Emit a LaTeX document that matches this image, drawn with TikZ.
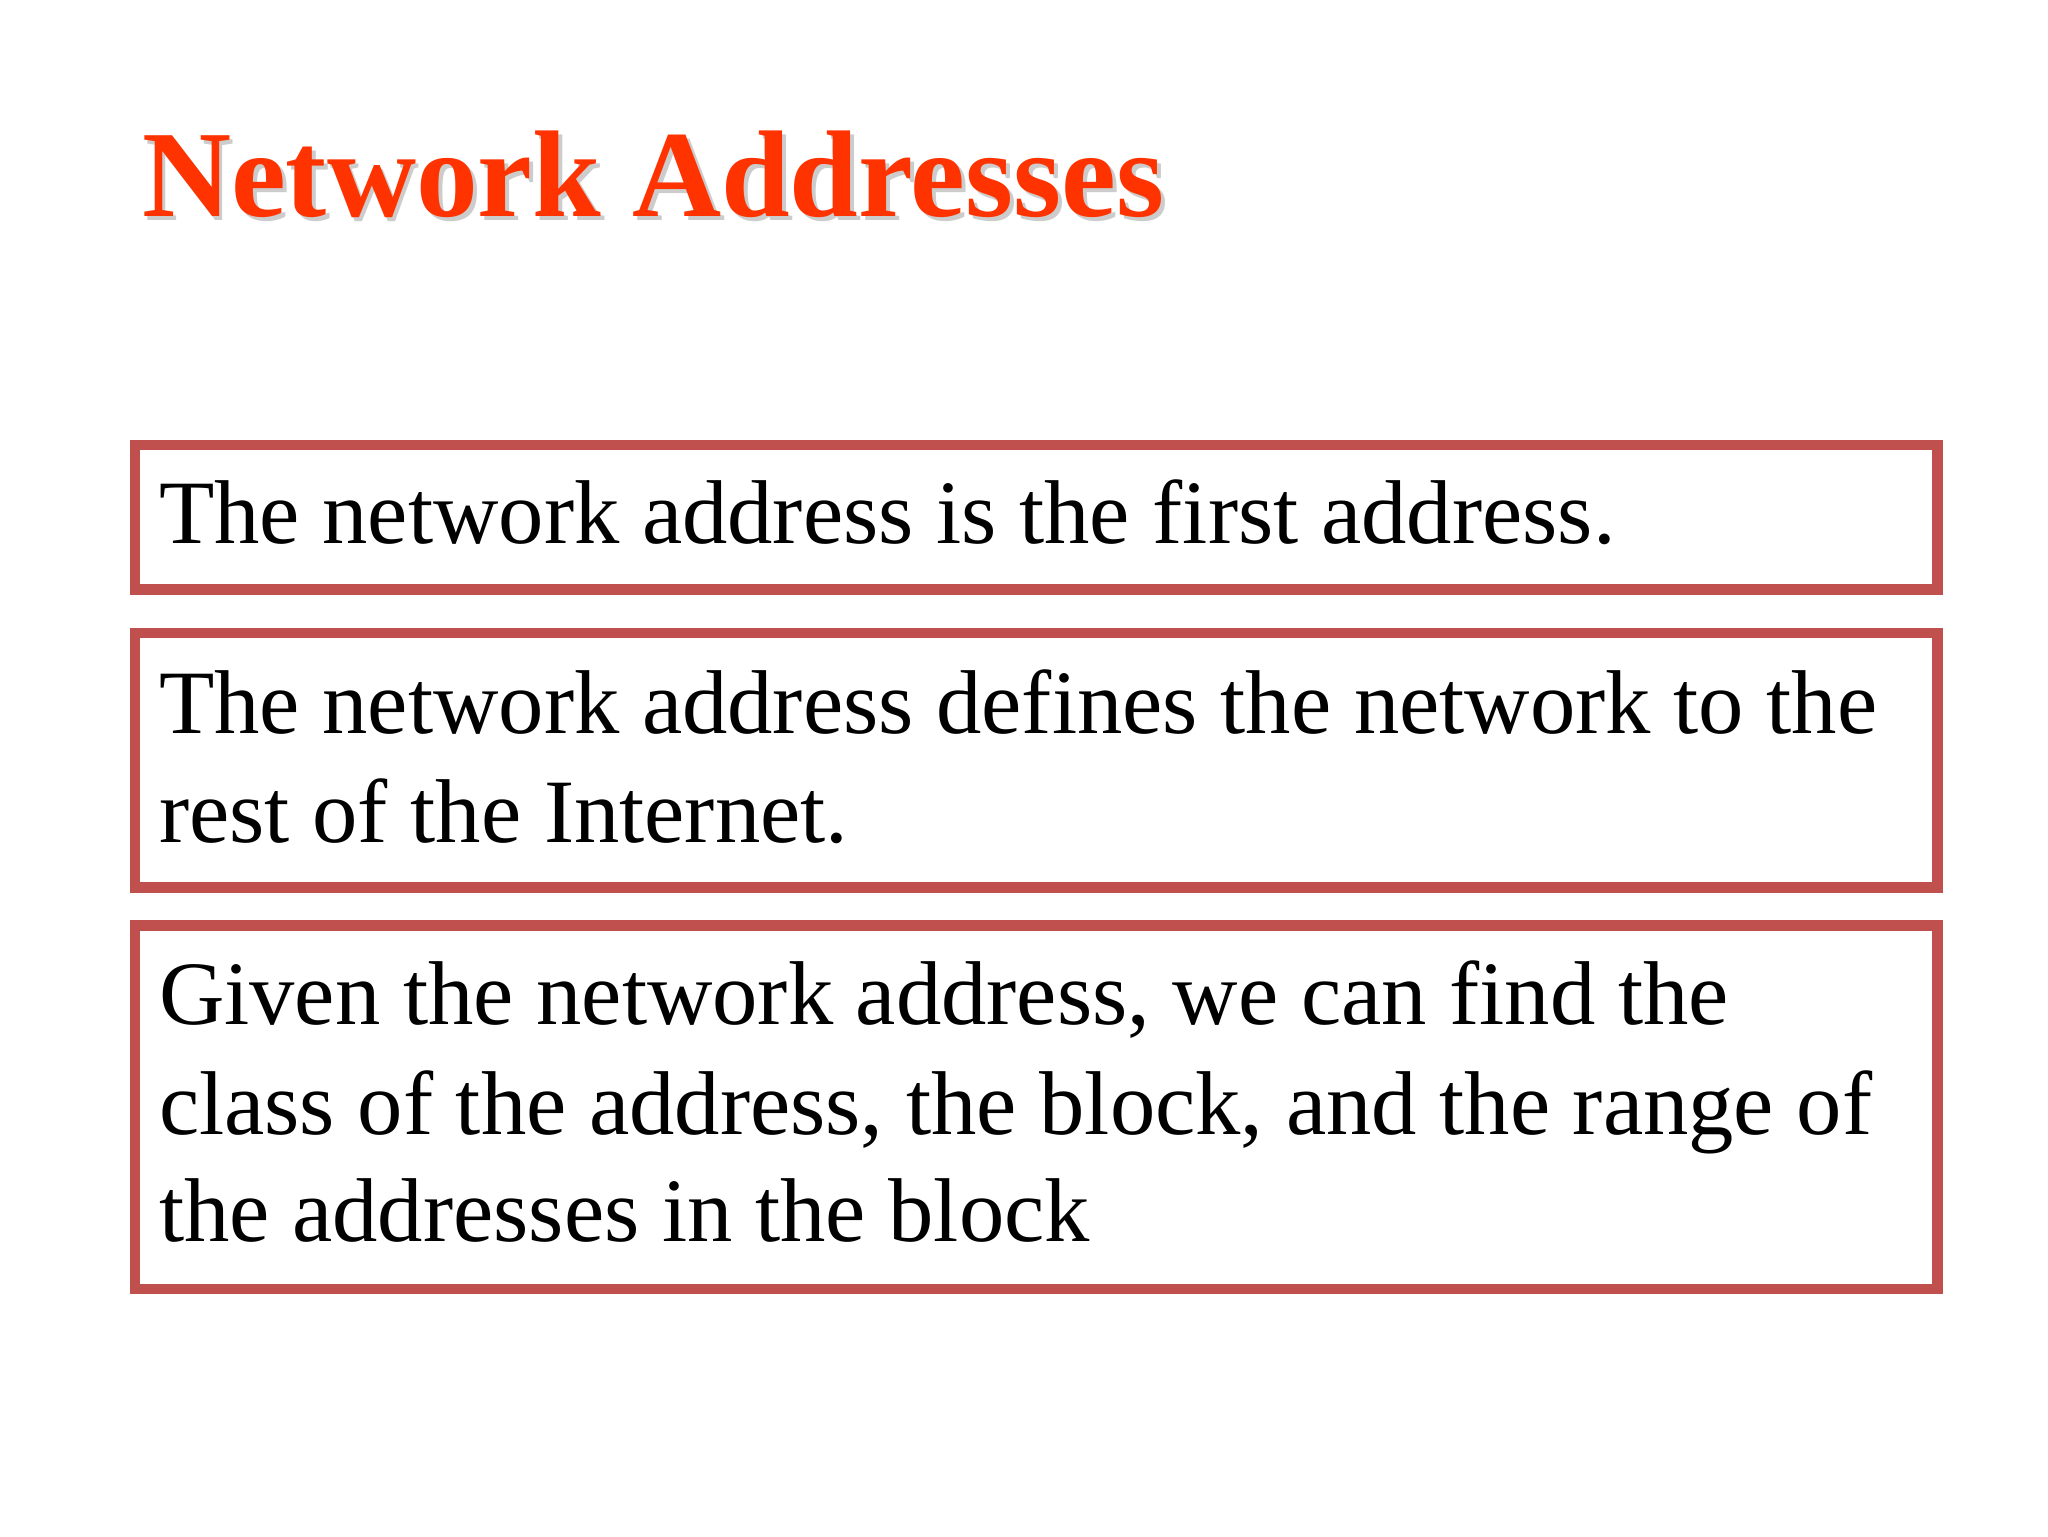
\documentclass[tikz,border=0pt]{standalone}
\usepackage{fontspec}
\setmainfont{Liberation Serif}
\definecolor{boxred}{HTML}{C0504D}
\definecolor{titlered}{HTML}{FF3300}
\begin{document}
\begin{tikzpicture}[x=1pt,y=-1pt,
  box/.style={draw=boxred,line width=8pt},
  body/.style={anchor=base west,inner sep=0pt,font=\fontsize{69}{84}\selectfont}]
\useasboundingbox[fill=white] (0,0) rectangle (1560,1170);
\node[anchor=base west,inner sep=0pt,text=black!20,font=\fontsize{94}{110}\selectfont\bfseries] (tshadow) at (111,168) {Network Addresses};
\node[anchor=base west,inner sep=0pt,text=titlered,font=\fontsize{94}{110}\selectfont\bfseries] (title) at (108,165) {Network Addresses};
\draw[box] (103,339) rectangle (1476,449);
\draw[box] (103,482) rectangle (1476,676);
\draw[box] (103,705) rectangle (1476,982);
\node[body] (t1) at (121,414) {The network address is the first address.};
\node[body] (t2a) at (121,559) {The network address defines the network to the};
\node[body] (t2b) at (121,642) {rest of the Internet.};
\node[body] (t3a) at (121,780) {Given the network address, we can find the};
\node[body] (t3b) at (121,864) {class of the address, the block, and the range of};
\node[body] (t3c) at (121,946) {the addresses in the block};
\end{tikzpicture}
\end{document}
